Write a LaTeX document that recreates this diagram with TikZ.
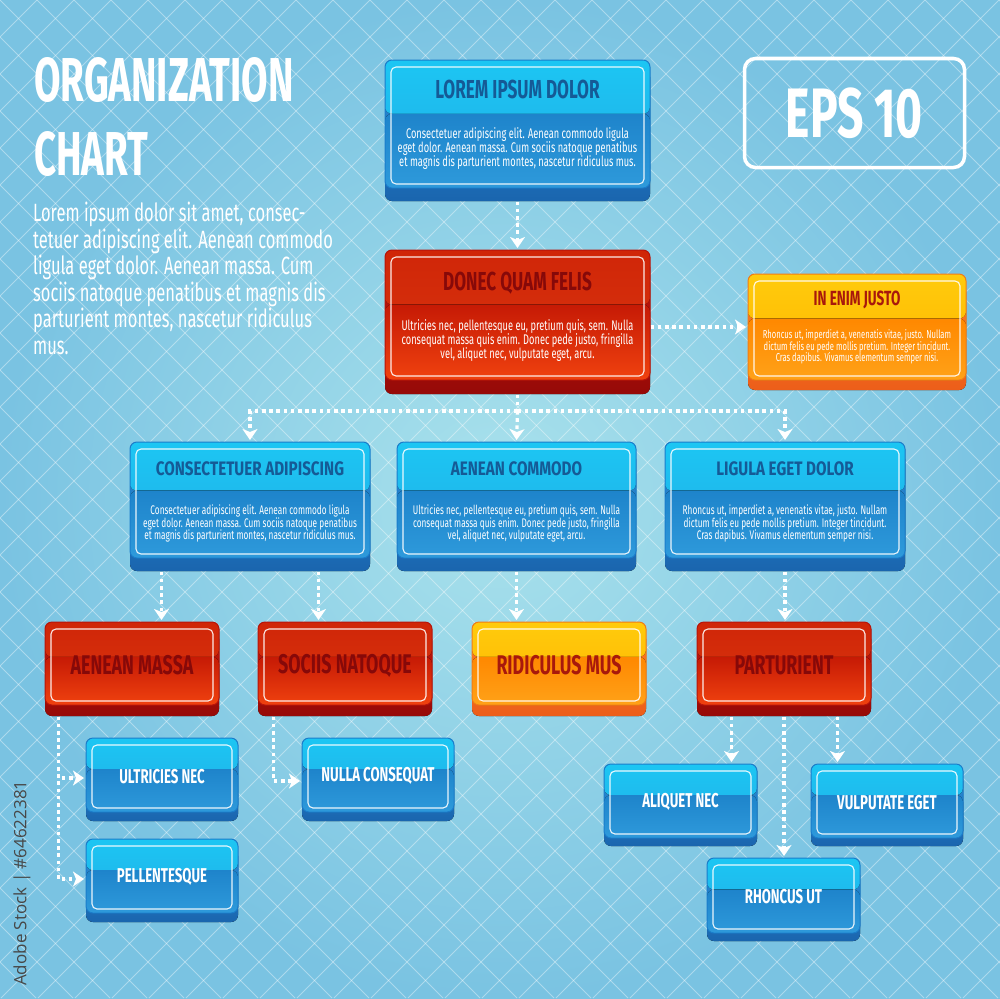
\documentclass[tikz,border=0pt]{standalone}
\usepackage{fontspec}
\setmainfont{Fira Sans}
\newfontfamily\ct{Fira Sans}[FakeStretch=0.62]
\newfontfamily\cf{Fira Sans}[FakeStretch=0.66]
\newfontfamily\cfw{Fira Sans}[FakeStretch=0.78]
\newfontfamily\wmf{Open Sans}
\usetikzlibrary{arrows.meta,calc}
\definecolor{bgA}{HTML}{7AC3E2}
\definecolor{bgB}{HTML}{AAE2EC}
% blue
\definecolor{blueedge}{HTML}{1B7DCB}
\definecolor{bluetA}{HTML}{1CC6F3}
\definecolor{bluetB}{HTML}{22ADE6}
\definecolor{bluebA}{HTML}{1E84CB}
\definecolor{bluebB}{HTML}{2E9ADB}
\definecolor{bluedeepA}{HTML}{2A8ED8}
\definecolor{bluedeepB}{HTML}{1A65AE}
\definecolor{bluehead}{HTML}{155A96}
% red
\definecolor{rededge}{HTML}{B8140A}
\definecolor{redtA}{HTML}{D02608}
\definecolor{redtB}{HTML}{D9360F}
\definecolor{redbA}{HTML}{C61A05}
\definecolor{redbB}{HTML}{F0420F}
\definecolor{reddeepA}{HTML}{C4160C}
\definecolor{reddeepB}{HTML}{960A08}
\definecolor{redhead}{HTML}{860909}
% orange
\definecolor{orangeedge}{HTML}{F27C16}
\definecolor{orangetA}{HTML}{FFCB0C}
\definecolor{orangetB}{HTML}{FFB400}
\definecolor{orangebA}{HTML}{FF8800}
\definecolor{orangebB}{HTML}{FFA218}
\definecolor{orangedeepA}{HTML}{FF7A22}
\definecolor{orangedeepB}{HTML}{EC5E1A}
\definecolor{orangehead}{HTML}{A8180C}
\tikzset{
  grid/.style={draw=white, opacity=0.38, line width=0.9pt},
  face/.style={rounded corners=7pt, draw=#1edge, line width=1pt, inner sep=0pt,
    path picture={
      \fill[top color=#1tA, bottom color=#1tB] (path picture bounding box.north west) rectangle ($(path picture bounding box.north east)!0.42!(path picture bounding box.south east)$);
      \fill[top color=#1bA, bottom color=#1bB] ($(path picture bounding box.north west)!0.42!(path picture bounding box.south west)$) rectangle (path picture bounding box.south east);
      \draw[white, opacity=0.9, line width=1.1pt, rounded corners=5pt] ([shift={(6pt,-7pt)}]path picture bounding box.north west) rectangle ([shift={(-6pt,4pt)}]path picture bounding box.south east);
    }},
  bighead/.style={font=\cf\bfseries\fontsize{26}{26}\selectfont, text=#1head, inner sep=0pt, anchor=base},
  midhead/.style={font=\cfw\bfseries\fontsize{19.5}{19.5}\selectfont, text=#1head, inner sep=0pt, anchor=base},
  orahead/.style={font=\cf\bfseries\fontsize{20.5}{20.5}\selectfont, text=#1head, inner sep=0pt, anchor=base},
  bodytext/.style={font=\cf\fontsize{#1}{#1}\selectfont, text=white, align=center, inner sep=0pt},
  smalllabel/.style={font=\cf\bfseries\fontsize{20}{20}\selectfont, text=white, text height=16.5pt},
  redlabel/.style={font=\cf\bfseries\fontsize{27}{27}\selectfont, text=#1head, text height=23pt},
  connline/.style={draw=white, line width=3.3pt, dash pattern=on 3.6pt off 3.6pt},
  conn/.style={connline, -{Stealth[width=15pt,length=11pt,inset=3pt]}, shorten >=1.5pt},
}
% #1 options, #2 name, #3 scheme, #4 x1, #5 y1, #6 x2, #7 y2 (face), #8 bottom of depth, #9 text
\newcommand\obox[9][]{%
  \fill[top color=#3deepA, bottom color=#3deepB, rounded corners=7pt] (#4,{#5+10}) rectangle (#6,#8);
  \node[face=#3, minimum width={#6-#4}, minimum height={#7-#5}, #1] (#2) at ({(#4+#6)/2},{(#5+#7)/2}) {#9};
}
\begin{document}
\begin{tikzpicture}[x=1pt,y=-1pt]
\useasboundingbox (0,0) rectangle (1000,998);
\shade[inner color=bgB, outer color=bgA] (0,0) rectangle (1000,998);
\begin{scope}
  \clip (0,0) rectangle (1000,998);
  \foreach \c in {-1036,-999,...,2000} {
    \draw[grid] (\c,0) -- ++(998,998);
    \draw[grid] (\c,0) -- ++(-998,998);
  }
\end{scope}

% title
\node[anchor=base west, inner sep=0pt, font=\ct\bfseries\fontsize{62}{62}\selectfont, text=white] (title1) at (34,101) {ORGANIZATION};
\node[anchor=base west, inner sep=0pt, font=\ct\bfseries\fontsize{62}{62}\selectfont, text=white] (title2) at (34,175) {CHART};
\node[anchor=north west, inner sep=0pt, align=left, font=\cf\fontsize{25}{26.5}\selectfont, text=white] (intro) at (33,202) {Lorem ipsum dolor sit amet, consec-\\tetuer adipiscing elit. Aenean commodo\\ligula eget dolor. Aenean massa. Cum\\sociis natoque penatibus et magnis dis\\parturient montes, nascetur ridiculus\\mus.};

% EPS box
\node[draw=white, line width=3.5pt, rounded corners=11pt, minimum width=220, minimum height=109, inner sep=0pt, font=\cf\bfseries\fontsize{70}{70}\selectfont, text=white] (eps) at (854.5,113) {EPS 10};

% level 1
\obox{top}{blue}{385}{60}{650}{188}{201}{}
\node[bighead=blue] (toph) at (517.5,98) {LOREM IPSUM DOLOR};
\node[bodytext=14] (topb) at (517.5,148.4) {Consectetuer adipiscing elit. Aenean commodo ligula\\eget dolor. Aenean massa. Cum sociis natoque penatibus\\et magnis dis parturient montes, nascetur ridiculus mus.};

% level 2
\obox{red}{red}{385}{250}{650}{380}{394}{}
\node[bighead=red] (redh) at (517.5,290) {DONEC QUAM FELIS};
\node[bodytext=14] (redb) at (517.5,340.4) {Ultricies nec, pellentesque eu, pretium quis, sem. Nulla\\consequat massa quis enim. Donec pede justo, fringilla\\vel, aliquet nec, vulputate eget, arcu.};

\obox{orange}{orange}{748}{274}{966}{380}{390}{}
\node[orahead=orange] (orangeh) at (857,305) {IN ENIM JUSTO};
\node[bodytext=11.5] (orangeb) at (857,347) {Rhoncus ut, imperdiet a, venenatis vitae, justo. Nullam\\dictum felis eu pede mollis pretium. Integer tincidunt.\\Cras dapibus. Vivamus elementum semper nisi.};

% level 3
\obox{c1}{blue}{130}{442}{370}{558}{571}{}
\node[midhead=blue] (c1h) at (250,475) {CONSECTETUER ADIPISCING};
\node[bodytext=12.5] (c1b) at (250,523.7) {Consectetuer adipiscing elit. Aenean commodo ligula\\eget dolor. Aenean massa. Cum sociis natoque penatibus\\et magnis dis parturient montes, nascetur ridiculus mus.};

\obox{c2}{blue}{397}{442}{636}{558}{571}{}
\node[midhead=blue] (c2h) at (516.5,475) {AENEAN COMMODO};
\node[bodytext=12.5] (c2b) at (516.5,523.7) {Ultricies nec, pellentesque eu, pretium quis, sem. Nulla\\consequat massa quis enim. Donec pede justo, fringilla\\vel, aliquet nec, vulputate eget, arcu.};

\obox{c3}{blue}{665}{442}{905}{558}{571}{}
\node[midhead=blue] (c3h) at (785,475) {LIGULA EGET DOLOR};
\node[bodytext=12.5] (c3b) at (785,523.7) {Rhoncus ut, imperdiet a, venenatis vitae, justo. Nullam\\dictum felis eu pede mollis pretium. Integer tincidunt.\\Cras dapibus. Vivamus elementum semper nisi.};

% level 4
\obox[redlabel=red]{r1}{red}{45}{622}{219}{705}{716}{AENEAN MASSA}
\obox[redlabel=red]{r2}{red}{258}{622}{432}{705}{716}{SOCIIS NATOQUE}
\obox[redlabel=orange]{r3}{orange}{472}{622}{646}{705}{716}{RIDICULUS MUS}
\obox[redlabel=red]{r4}{red}{697}{622}{871}{705}{716}{PARTURIENT}

% level 5
\obox[smalllabel]{u1}{blue}{86}{738}{238}{812}{821}{ULTRICIES NEC}
\obox[smalllabel]{u2}{blue}{86}{839}{238}{913}{922}{PELLENTESQUE}
\obox[smalllabel]{n1}{blue}{302}{738}{454}{812}{821}{NULLA CONSEQUAT}
\obox[smalllabel]{al}{blue}{604}{764}{757}{838}{846}{ALIQUET NEC}
\obox[smalllabel]{vu}{blue}{811}{764}{963}{838}{846}{VULPUTATE EGET}
\obox[smalllabel]{rh}{blue}{707}{858}{860}{933}{941}{RHONCUS UT}

% connectors
\draw[conn] ([yshift=-13pt]top.south) -- (red.north);
\draw[conn] (red.east |- orange.west) -- (orange.west);
\coordinate (bus) at (517.5,411);
\draw[connline] ([yshift=-14pt]red.south) -- (bus);
\draw[conn] (bus) -| (c1.north);
\draw[conn] (bus) -- (c2.north);
\draw[conn] (bus) -| (c3.north);

\coordinate (a1) at ($(c1.south west)+(32,13)$);
\coordinate (a2) at ($(c1.south east)+(-52,13)$);
\coordinate (a3) at ($(c2.south)+(0,13)$);
\coordinate (a4) at ($(c3.south)+(0,13)$);
\draw[conn] (a1) -- (a1 |- r1.north);
\draw[conn] (a2) -- (a2 |- r2.north);
\draw[conn] (a3) -- (a3 |- r3.north);
\draw[conn] (a4) -- (a4 |- r4.north);

\coordinate (a5) at ($(r1.south west)+(14,11)$);
\coordinate (a6) at ($(r2.south west)+(16,11)$);
\draw[conn] (a5) |- ([yshift=-3pt]u1.west);
\draw[conn] (a5) |- ([yshift=-3pt]u2.west);
\draw[conn] (a6) |- ([yshift=-6pt]n1.west);

\coordinate (a7) at ($(r4.south west)+(35,11)$);
\coordinate (a8) at ($(r4.south)+(0,11)$);
\coordinate (a9) at ($(r4.south east)+(-34,11)$);
\draw[conn] (a7) -- (a7 |- al.north);
\draw[conn] (a8) -- (a8 |- rh.north);
\draw[conn] (a9) -- (a9 |- vu.north);

% side credit
\node[rotate=90, anchor=west, inner sep=0pt, font=\wmf\fontsize{17}{17}\selectfont, text=black!72] (credit) at (22,986) {Adobe Stock | \#64622381};
\end{tikzpicture}
\end{document}
